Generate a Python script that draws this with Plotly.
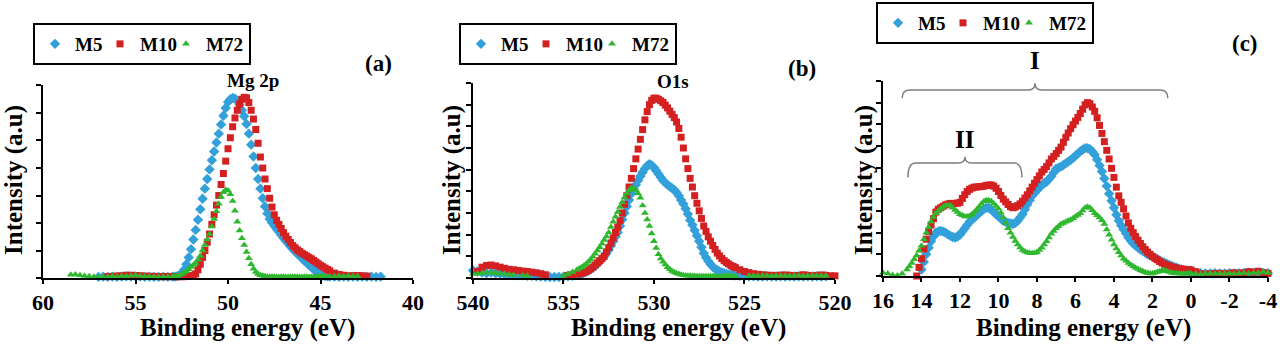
import plotly.graph_objects as go

# ---------------- DATA ----------------
# Panel (a) Mg 2p  (binding energy, eV)
E_a = [58.5, 58.25, 58.0, 57.75, 57.5, 57.25, 57.0, 56.75, 56.5, 56.25, 56.0, 55.75, 55.5, 55.25,
       55.0, 54.75, 54.5, 54.25, 54.0, 53.75, 53.5, 53.25, 53.0,
       52.875, 52.75, 52.625, 52.5, 52.375, 52.25, 52.125, 52.0, 51.875, 51.75, 51.625, 51.5,
       51.375, 51.25, 51.125, 51.0, 50.875, 50.75, 50.625, 50.5, 50.375, 50.25, 50.125, 50.0,
       49.875, 49.75, 49.625, 49.5, 49.375, 49.25, 49.125, 49.0, 48.875, 48.75, 48.625, 48.5,
       48.375, 48.25, 48.125, 48.0, 47.875, 47.75, 47.625, 47.5, 47.375, 47.25, 47.125, 47.0,
       46.875, 46.75, 46.625, 46.5, 46.375, 46.25, 46.125, 46.0, 45.875, 45.75, 45.625, 45.5,
       45.375, 45.25, 45.125, 45.0, 44.875, 44.75, 44.625, 44.5,
       44.25, 44.0, 43.75, 43.5, 43.25, 43.0, 42.75, 42.5, 42.25, 42.0, 41.75, 41.5]
M5_a = [None, None, None, None, None, None,
        0.04, 0.05, 0.04, 0.05, 0.04, 0.05, 0.06, 0.05, 0.06, 0.05, 0.04, 0.05, 0.04, 0.04, 0.05,
        0.04, 0.05,
        0.05, 0.07, 0.1, 0.15, 0.3, 0.5, 0.75, 1.05, 1.4, 1.75, 2.12, 2.5, 2.88, 3.25, 3.6, 3.95,
        4.28, 4.6, 4.93, 5.25, 5.58, 5.9, 6.18, 6.4, 6.5, 6.55, 6.52, 6.45, 6.3, 6.1, 5.88, 5.6,
        5.25, 4.85, 4.42, 4.0, 3.6, 3.25, 2.9, 2.6, 2.35, 2.15, 2.02, 1.9, 1.79, 1.68, 1.56, 1.45,
        1.35, 1.25, 1.15, 1.05, 0.96, 0.88, 0.8, 0.72, 0.63, 0.55, 0.47, 0.4, 0.32, 0.25, 0.18,
        0.12, 0.09, 0.07, 0.06, 0.05,
        0.05, 0.04, 0.05, 0.04, 0.05, 0.04, 0.05, 0.04, 0.05, 0.04, 0.05, None]
M10_a = [None, None, None, None, None, None, None, None,
         0.05, 0.06, 0.07, 0.08, 0.1, 0.1, 0.09, 0.08, 0.07, 0.06, 0.06, 0.05, 0.05, 0.05, 0.05,
         0.05, 0.05, 0.05, 0.05, 0.05, 0.06, 0.07, 0.08, 0.1, 0.15, 0.3, 0.5, 0.75, 1.0, 1.3, 1.6,
         1.95, 2.3, 2.65, 3.0, 3.4, 3.8, 4.25, 4.7, 5.1, 5.5, 5.82, 6.1, 6.33, 6.5, 6.57, 6.55,
         6.38, 6.1, 5.78, 5.4, 4.9, 4.4, 4.0, 3.6, 3.25, 2.9, 2.58, 2.3, 2.1, 1.95, 1.8, 1.65,
         1.52, 1.4, 1.29, 1.18, 1.1, 1.02, 0.96, 0.9, 0.85, 0.8, 0.75, 0.7, 0.64, 0.58, 0.52,
         0.46, 0.41, 0.36, 0.31, 0.26,
         0.18, 0.13, 0.1, 0.08, 0.08, 0.09, 0.08, 0.07, None, None, None, None]
M72_a = [0.12, 0.13, 0.1, 0.07, 0.06, 0.05, 0.05, 0.04, 0.05, 0.06, 0.05, 0.07, 0.06, 0.08, 0.1,
         0.07, 0.06, 0.05, 0.05, 0.04, 0.05, 0.04, 0.05,
         0.06, 0.07, 0.1, 0.15, 0.2, 0.25, 0.32, 0.4, 0.47, 0.55, 0.66, 0.8, 1.0, 1.2, 1.4, 1.6,
         1.87, 2.15, 2.43, 2.7, 2.95, 3.12, 3.2, 3.18, 3.05, 2.8, 2.45, 2.05, 1.73, 1.45, 1.2,
         0.95, 0.72, 0.5, 0.34, 0.22, 0.15, 0.1, 0.08, 0.06, 0.05, 0.05, 0.05, 0.05, 0.04, 0.04,
         0.05, 0.05, 0.04, 0.04, 0.05, 0.05, 0.05, 0.05, 0.04, 0.04, 0.05, 0.05, 0.04, 0.04, 0.05,
         0.05, 0.05, 0.05, 0.06, 0.06, 0.05, 0.05,
         0.06, 0.07, 0.06, 0.07, 0.06, 0.06, None, None, None, None, None, None]

# Panel (b) O1s
E_b = [540.0, 539.75, 539.5, 539.25, 539.0, 538.75, 538.5, 538.25, 538.0, 537.75, 537.5, 537.25,
       537.0, 536.75, 536.5, 536.25, 536.0, 535.75, 535.5, 535.25, 535.0, 534.75, 534.5, 534.25,
       534.125, 534.0, 533.875, 533.75, 533.625, 533.5, 533.375, 533.25, 533.125, 533.0,
       532.875, 532.75, 532.625, 532.5, 532.375, 532.25, 532.125, 532.0, 531.875, 531.75,
       531.625, 531.5, 531.375, 531.25, 531.125, 531.0, 530.875, 530.75, 530.625, 530.5,
       530.375, 530.25, 530.125, 530.0, 529.875, 529.75, 529.625, 529.5, 529.375, 529.25,
       529.125, 529.0, 528.875, 528.75, 528.625, 528.5, 528.375, 528.25, 528.125, 528.0,
       527.875, 527.75, 527.625, 527.5, 527.375, 527.25, 527.125, 527.0, 526.875, 526.75,
       526.625, 526.5, 526.375, 526.25, 526.125, 526.0, 525.875, 525.75, 525.625, 525.5,
       525.25, 525.0, 524.75, 524.5, 524.25, 524.0, 523.75, 523.5, 523.25, 523.0, 522.75, 522.5,
       522.25, 522.0, 521.75, 521.5, 521.25, 521.0, 520.75, 520.5, 520.25, 520.0]
M5_b = [0.35, 0.3, 0.25, 0.22, 0.25, 0.22, 0.2, 0.18, 0.15, 0.14, 0.12, 0.12, 0.1, 0.1, 0.08, 0.07,
        0.06, 0.05, 0.05, 0.05, 0.06, 0.08, 0.1, 0.14,
        0.17, 0.2, 0.24, 0.28, 0.34, 0.4, 0.47, 0.55, 0.65, 0.75, 0.87, 1.0, 1.15, 1.3, 1.5, 1.7,
        1.9, 2.1, 2.4, 2.7, 3.0, 3.3, 3.6, 3.9, 4.1, 4.3, 4.5, 4.7, 4.88, 5.05, 5.18, 5.25, 5.2,
        5.1, 4.95, 4.8, 4.65, 4.5, 4.4, 4.3, 4.22, 4.15, 4.06, 3.95, 3.8, 3.6, 3.42, 3.2, 2.95,
        2.67, 2.45, 2.2, 1.95, 1.7, 1.42, 1.15, 0.95, 0.78, 0.64, 0.52, 0.43, 0.36, 0.3, 0.26,
        0.22, 0.19, 0.17, 0.15, 0.13, 0.12,
        0.1, 0.09, 0.08, 0.08, 0.07, 0.07, 0.08, 0.07, 0.07, 0.08, 0.07, 0.08, 0.07, 0.08, 0.07,
        0.08, 0.07, 0.08, 0.07, 0.08, None, None]
M10_b = [None, 0.3, 0.5, 0.58, 0.6, 0.56, 0.5, 0.45, 0.4, 0.38, 0.35, 0.32, 0.3, 0.27, 0.24, 0.2,
         0.15, None, None, None, None, 0.12, 0.15, 0.18,
         0.2, 0.22, 0.26, 0.3, 0.36, 0.42, 0.5, 0.6, 0.7, 0.8, 0.9, 1.0, 1.2, 1.4, 1.62, 1.85,
         2.1, 2.35, 2.65, 3.0, 3.4, 3.8, 4.2, 4.6, 5.05, 5.5, 5.95, 6.4, 6.85, 7.3, 7.68, 8.0,
         8.2, 8.3, 8.3, 8.25, 8.18, 8.1, 7.98, 7.85, 7.7, 7.55, 7.4, 7.2, 6.9, 6.5, 6.0, 5.5,
         5.05, 4.6, 4.2, 3.8, 3.45, 3.1, 2.75, 2.4, 2.15, 1.9, 1.7, 1.5, 1.32, 1.15, 1.02, 0.9,
         0.8, 0.72, 0.65, 0.58, 0.53, 0.48,
         0.38, 0.3, 0.25, 0.2, 0.17, 0.15, 0.13, 0.12, 0.12, 0.13, 0.14, 0.12, 0.1, 0.12, 0.15,
         0.12, 0.1, 0.12, 0.14, 0.12, 0.1, 0.1]
M72_b = [0.2, 0.2, 0.22, 0.24, 0.25, 0.22, 0.2, 0.18, 0.15, 0.14, None, 0.12, 0.1,
         None, None, None, None, None, None, None, 0.12, 0.18, 0.28, 0.38,
         0.44, 0.5, 0.57, 0.65, 0.75, 0.85, 0.98, 1.12, 1.27, 1.42, 1.58, 1.75, 1.92, 2.1, 2.35,
         2.6, 2.83, 3.05, 3.28, 3.5, 3.72, 3.9, 4.05, 4.15, 4.13, 4.05, 3.9, 3.7, 3.35, 3.0, 2.7,
         2.4, 2.05, 1.7, 1.38, 1.1, 0.9, 0.75, 0.62, 0.5, 0.4, 0.32, 0.27, 0.22, 0.18, 0.15,
         0.13, 0.12, 0.11, 0.1, 0.09, 0.09, 0.08, 0.08, 0.08, 0.08, 0.08, 0.08, 0.08, 0.08, 0.08,
         0.08, 0.08, 0.08, 0.08, 0.08, 0.08, 0.08, 0.08, 0.08,
         None, None, 0.1, 0.1, 0.09, 0.1, 0.1, 0.09, 0.1, 0.1, 0.1, 0.09, 0.1, 0.1, 0.09, 0.1,
         0.1, 0.1, 0.1, 0.1, None, None]

# Panel (c) valence band
E_c = [16.0, 15.75, 15.5, 15.25, 15.0, 14.75,
       14.625, 14.5, 14.375, 14.25, 14.125, 14.0, 13.875, 13.75, 13.625, 13.5, 13.375, 13.25,
       13.125, 13.0, 12.875, 12.75, 12.625, 12.5, 12.375, 12.25, 12.125, 12.0, 11.875, 11.75,
       11.625, 11.5, 11.375, 11.25, 11.125, 11.0, 10.875, 10.75, 10.625, 10.5, 10.375, 10.25,
       10.125, 10.0, 9.875, 9.75, 9.625, 9.5, 9.375, 9.25, 9.125, 9.0, 8.875, 8.75, 8.625, 8.5,
       8.375, 8.25, 8.125, 8.0, 7.875, 7.75, 7.625, 7.5, 7.375, 7.25, 7.125, 7.0, 6.875, 6.75,
       6.625, 6.5, 6.375, 6.25, 6.125, 6.0, 5.875, 5.75, 5.625, 5.5, 5.375, 5.25, 5.125, 5.0,
       4.875, 4.75, 4.625, 4.5, 4.375, 4.25, 4.125, 4.0, 3.875, 3.75, 3.625, 3.5, 3.375, 3.25,
       3.125, 3.0, 2.875, 2.75, 2.625, 2.5, 2.375, 2.25, 2.125, 2.0, 1.875, 1.75, 1.625, 1.5,
       1.375, 1.25, 1.125, 1.0, 0.875, 0.75, 0.625, 0.5, 0.375, 0.25, 0.125, 0.0,
       -0.25, -0.5, -0.75, -1.0, -1.25, -1.5, -1.75, -2.0, -2.25, -2.5, -2.75, -3.0, -3.25,
       -3.5, -3.75, -4.0]
M5_c = [None, None, None, None, None, None,
        None, None, None, None, None, 0.3, 0.65, 1.0, 1.3, 1.6, 1.82, 2.0, 2.06, 2.08, 2.05, 2.0,
        1.92, 1.85, 1.8, 1.78, 1.82, 1.9, 2.05, 2.2, 2.35, 2.5, 2.6, 2.7, 2.8, 2.9, 3.0, 3.1,
        3.15, 3.15, 3.07, 2.95, 2.85, 2.75, 2.65, 2.55, 2.5, 2.45, 2.42, 2.4, 2.45, 2.55, 2.7,
        2.85, 3.07, 3.3, 3.5, 3.7, 3.83, 3.95, 4.08, 4.2, 4.28, 4.35, 4.48, 4.6, 4.78, 4.95, 5.0,
        5.05, 5.12, 5.2, 5.28, 5.35, 5.45, 5.55, 5.65, 5.75, 5.83, 5.9, 5.9, 5.85, 5.75, 5.6,
        5.37, 5.1, 4.82, 4.5, 4.15, 3.8, 3.47, 3.15, 2.83, 2.55, 2.33, 2.15, 1.96, 1.78, 1.63,
        1.5, 1.4, 1.3, 1.22, 1.15, 1.07, 1.0, 0.95, 0.9, 0.84, 0.78, 0.72, 0.66, 0.61, 0.56,
        0.51, 0.46, 0.42, 0.38, 0.34, 0.3, 0.27, 0.24, 0.22, 0.2,
        0.15, 0.13, 0.12, 0.12, 0.13, 0.12, 0.12, 0.13, 0.12, 0.13, 0.14, 0.15, 0.14, 0.15, 0.14,
        0.13]
M10_c = [None, None, None, None, None, None,
         None, None, None, 0.0, 0.4, 0.8, 1.25, 1.7, 2.05, 2.35, 2.65, 2.95, 3.08, 3.15, 3.22,
         3.28, 3.32, 3.35, 3.35, 3.35, 3.36, 3.4, 3.58, 3.75, 3.9, 4.0, 4.06, 4.1, 4.11, 4.12,
         4.13, 4.15, 4.18, 4.2, 4.2, 4.15, 4.05, 3.9, 3.72, 3.55, 3.42, 3.3, 3.2, 3.15, 3.18,
         3.25, 3.33, 3.45, 3.6, 3.75, 3.93, 4.1, 4.28, 4.45, 4.62, 4.8, 4.92, 5.05, 5.22, 5.4,
         5.52, 5.65, 5.8, 5.95, 6.17, 6.4, 6.6, 6.8, 6.98, 7.15, 7.32, 7.5, 7.7, 7.9, 8.0, 7.95,
         7.8, 7.6, 7.3, 6.95, 6.58, 6.2, 5.8, 5.4, 4.97, 4.55, 4.1, 3.7, 3.4, 3.1, 2.77, 2.45,
         2.2, 2.0, 1.82, 1.65, 1.5, 1.35, 1.22, 1.1, 1.0, 0.9, 0.82, 0.75, 0.67, 0.6, 0.55, 0.5,
         0.46, 0.42, 0.39, 0.36, 0.34, 0.32, 0.31, 0.3, 0.29, 0.28,
         0.2, 0.1, 0.08, 0.1, 0.12, 0.12, 0.1, 0.12, 0.15, 0.12, 0.15, 0.2, 0.18, 0.22, 0.15, 0.12]
M72_c = [0.15, 0.12, 0.05, 0.02, 0.1, 0.3,
         0.45, 0.6, 0.77, 0.95, 1.17, 1.4, 1.7, 2.0, 2.25, 2.5, 2.72, 2.9, 3.0, 3.1, 3.18, 3.25,
         3.27, 3.25, 3.15, 3.05, 2.95, 2.85, 2.8, 2.75, 2.75, 2.78, 2.85, 2.95, 3.07, 3.2, 3.33,
         3.45, 3.5, 3.5, 3.45, 3.35, 3.23, 3.1, 2.92, 2.7, 2.45, 2.2, 2.0, 1.8, 1.62, 1.45, 1.32,
         1.2, 1.13, 1.08, 1.06, 1.05, 1.06, 1.1, 1.2, 1.3, 1.45, 1.6, 1.78, 1.95, 2.08, 2.2, 2.3,
         2.4, 2.45, 2.5, 2.55, 2.6, 2.67, 2.75, 2.82, 2.9, 3.02, 3.15, 3.2, 3.15, 3.03, 2.9, 2.8,
         2.7, 2.57, 2.4, 2.15, 1.9, 1.67, 1.45, 1.27, 1.1, 0.95, 0.8, 0.7, 0.6, 0.52, 0.45, 0.38,
         0.32, 0.27, 0.22, 0.17, 0.14, 0.12, 0.12, 0.15, 0.18, 0.22, 0.26, 0.25, 0.22, 0.18,
         0.15, 0.13, 0.12, 0.11, 0.1, 0.1, 0.1, 0.11, 0.12,
         0.1, 0.08, 0.1, 0.12, 0.1, 0.12, 0.1, 0.12, 0.1, 0.12, 0.14, 0.12, 0.14, 0.15, 0.18, 0.15]

series_names = ["M5", "M10", "M72"]
x_ticks_a = [60, 55, 50, 45, 40]
x_ticks_b = [540, 535, 530, 525, 520]
x_ticks_c = [16, 14, 12, 10, 8, 6, 4, 2, 0, -2, -4]

for name, xs, ys in [("a5", E_a, M5_a), ("a10", E_a, M10_a), ("a72", E_a, M72_a),
                     ("b5", E_b, M5_b), ("b10", E_b, M10_b), ("b72", E_b, M72_b),
                     ("c5", E_c, M5_c), ("c10", E_c, M10_c), ("c72", E_c, M72_c)]:
    assert len(xs) == len(ys), (name, len(xs), len(ys))

# ---------------- STYLE ----------------
FONT = "Liberation Serif"
colors = ["#33a0da", "#d42020", "#2fb82f"]
symbols = ["diamond", "square", "triangle-up"]
msize = [8, 7, 7]
leg_w = [20, 21, 38]   # legend entry widths (px)

fig = go.Figure()
panels = [
    ("x", "y", "legend", E_a, [M5_a, M10_a, M72_a]),
    ("x2", "y2", "legend2", E_b, [M5_b, M10_b, M72_b]),
    ("x3", "y3", "legend3", E_c, [M5_c, M10_c, M72_c]),
]
for xa, ya, lg, xs, ser in panels:
    for i, ys in enumerate(ser):
        fig.add_trace(go.Scatter(
            x=xs, y=ys, mode="markers", name=series_names[i],
            marker=dict(symbol=symbols[i], size=msize[i], color=colors[i], line=dict(width=0)),
            xaxis=xa, yaxis=ya, legend=lg, legendwidth=leg_w[i], cliponaxis=False))

tickfont = dict(family=FONT, size=22, color="black", weight="bold")
def xax(domain, rng, ticks, anchor):
    return dict(domain=domain, range=rng, tickvals=ticks, ticktext=[str(t) for t in ticks],
                showline=True, linecolor="black", linewidth=2, ticks="outside", ticklen=4,
                tickwidth=1.5, tickcolor="black", showgrid=False, zeroline=False,
                tickfont=tickfont, anchor=anchor, fixedrange=True, automargin=False)
def yax(domain, rng, anchor):
    return dict(domain=domain, range=rng, dtick=1, tick0=0, showline=True, linecolor="black",
                linewidth=2, ticks="outside", ticklen=5, tickwidth=1.5, tickcolor="black",
                showticklabels=False, showgrid=False, zeroline=False, anchor=anchor,
                fixedrange=True, automargin=False)

legfont = dict(family=FONT, size=19, color="black", weight="bold")
def leg(x, y):
    return dict(x=x, y=y, xanchor="left", yanchor="top", orientation="h",
                bordercolor="black", borderwidth=2, bgcolor="white", font=legfont,
                itemwidth=30, tracegroupgap=0)

fig.update_layout(
    width=1280, height=346, autosize=False,
    margin=dict(l=0, r=0, t=0, b=0, pad=0, autoexpand=False),
    paper_bgcolor="white", plot_bgcolor="white",
    xaxis=xax([0.0336, 0.3227], [60, 40], x_ticks_a, "y"),
    yaxis=yax([0.1965, 0.7529], [0, 7], "x"),
    xaxis2=xax([0.3695, 0.6523], [540, 520], x_ticks_b, "y2"),
    yaxis2=yax([0.1965, 0.7601], [0, 9], "x2"),
    xaxis3=xax([0.6898, 0.9906], [16, -4], x_ticks_c, "y3"),
    yaxis3=yax([0.2023, 0.7659], [0, 9], "x3"),
    legend=leg(33 / 1280, 1 - 23 / 346),
    legend2=leg(459 / 1280, 1 - 23 / 346),
    legend3=leg(876 / 1280, 1 - 2 / 346),
)

def pann(text, px, py, size, angle=0):
    fig.add_annotation(text=text, x=px / 1280, y=1 - py / 346, xref="paper", yref="paper",
                       showarrow=False, xanchor="center", yanchor="middle", textangle=angle,
                       font=dict(family=FONT, size=size, color="black", weight="bold"))

for cx in [247, 678, 1083]:
    pann("Binding energy (eV)", cx, 328, 25)
for cx in [14, 452, 864]:
    pann("Intensity (a.u)", cx, 180, 25, angle=-90)
pann("(a)", 378, 63, 23)
pann("Mg 2p", 253, 80, 19)
pann("(b)", 802, 68, 23)
pann("O1s", 673, 81, 19)
pann("(c)", 1245, 43, 23)
pann("I", 1035, 60, 25)

# brackets in panel (c)
bcol = dict(color="#7f7f7f", width=1.5)
fig.add_shape(type="path", xref="x3", yref="y3", line=bcol,
              path="M 15.0,8.2 Q 15.0,8.58 14.6,8.58 L 8.5,8.58 Q 8.1,8.58 8.1,8.9 "
                   "Q 8.1,8.58 7.7,8.58 L 1.6,8.58 Q 1.2,8.58 1.2,8.2")
fig.add_shape(type="path", xref="x3", yref="y3", line=bcol,
              path="M 14.7,4.55 Q 14.7,5.21 14.3,5.21 L 12.1,5.21 Q 11.74,5.21 11.74,5.5 "
                   "Q 11.74,5.21 11.38,5.21 L 9.18,5.21 Q 8.78,5.21 8.78,4.55")
fig.add_annotation(text="II", x=11.74, y=6.28, xref="x3", yref="y3", showarrow=False,
                   font=dict(family=FONT, size=25, color="black", weight="bold"))

fig.write_html("out.html", config={"displayModeBar": False},
               post_script="document.body.style.margin='0';document.body.style.overflow='hidden';")
